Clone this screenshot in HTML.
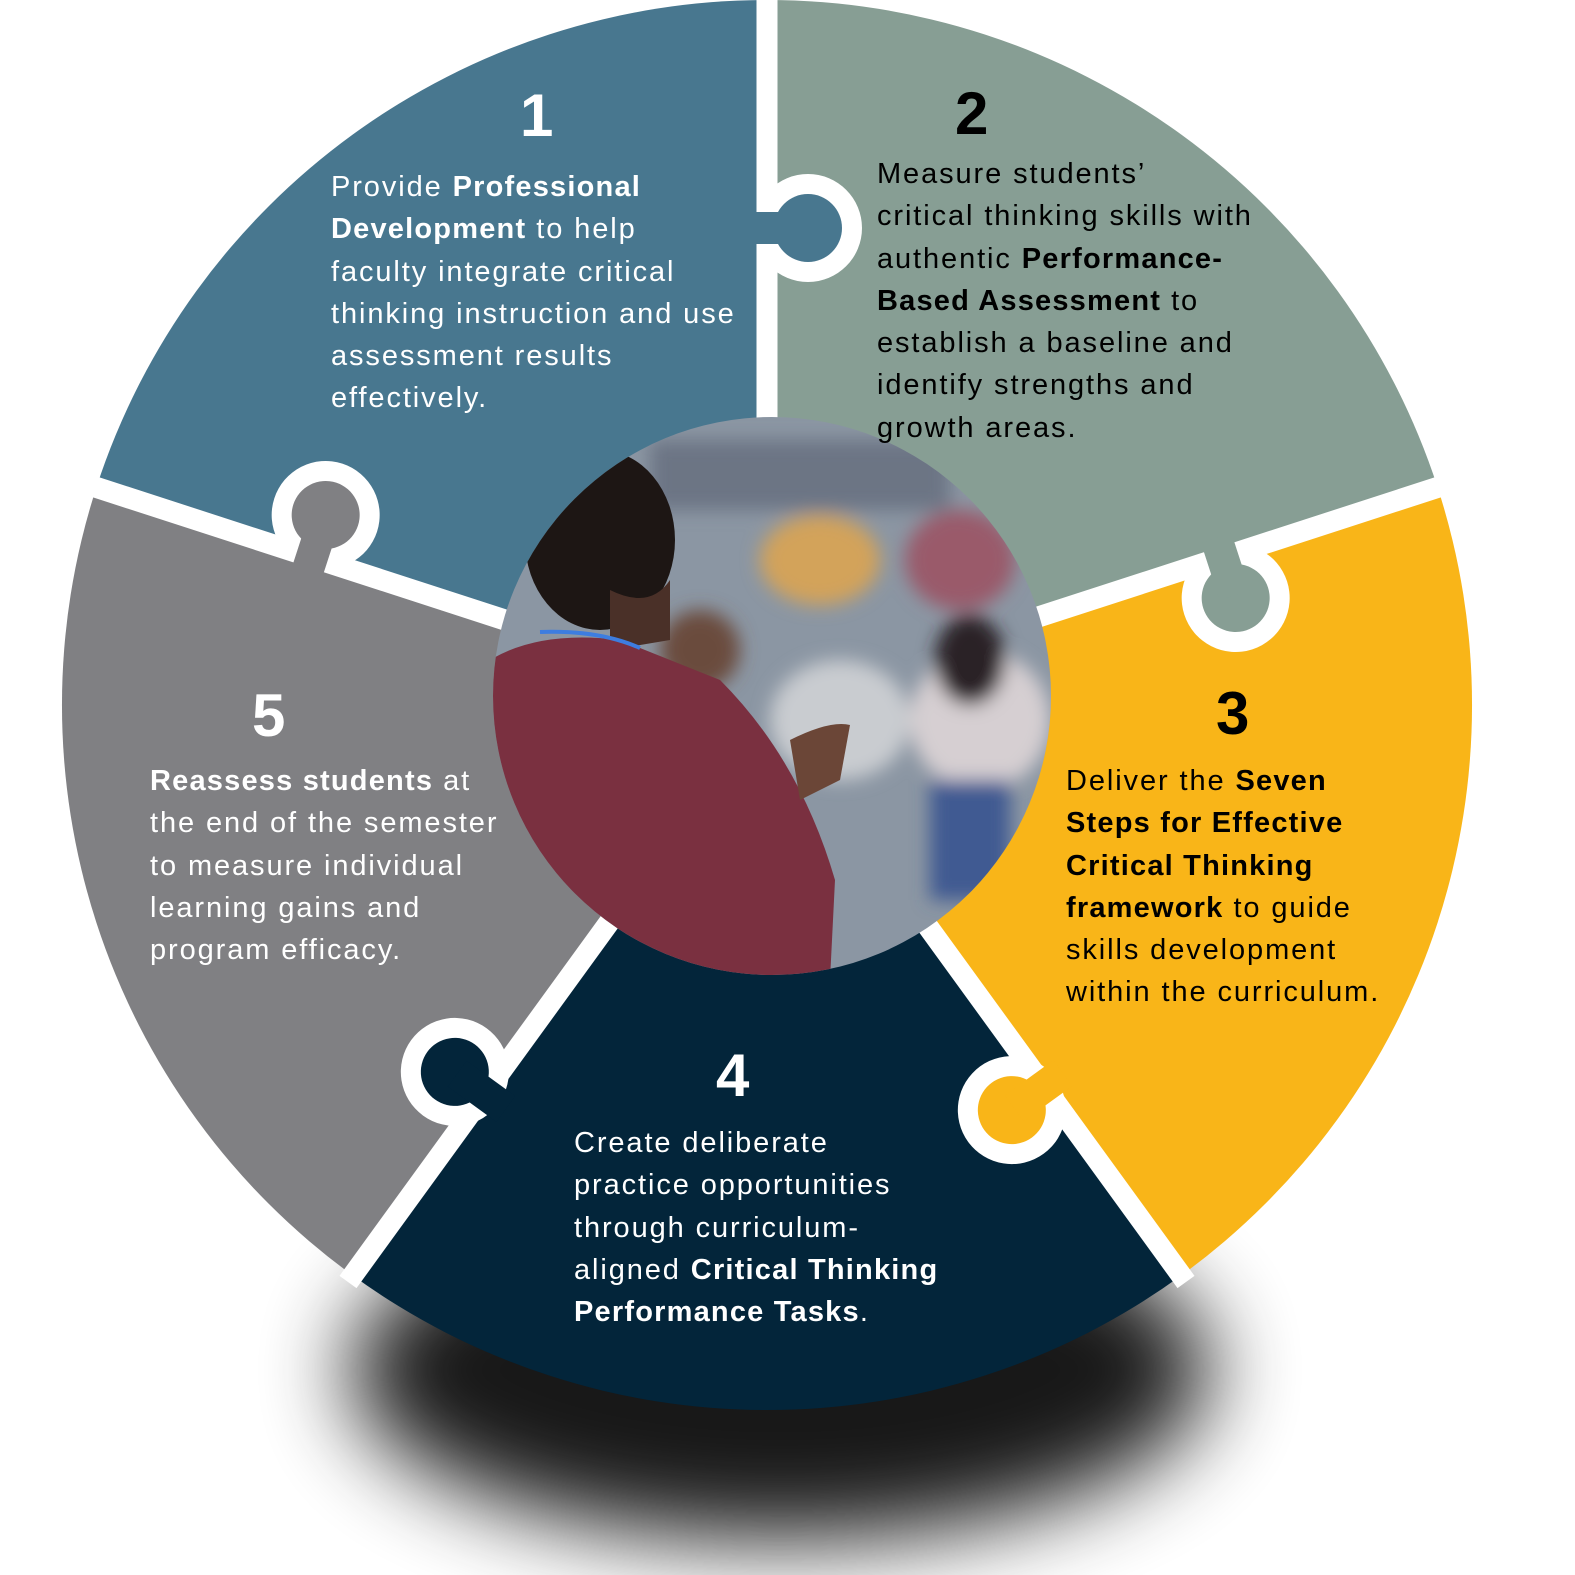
<!DOCTYPE html>
<html><head><meta charset="utf-8">
<style>
html,body{margin:0;padding:0;background:#fff;}
body{width:1575px;height:1575px;position:relative;overflow:hidden;font-family:"Liberation Sans",sans-serif;}
.t{position:absolute;font-size:29px;line-height:42.3px;letter-spacing:1.9px;white-space:nowrap;}
.n{position:absolute;font-size:60px;font-weight:bold;line-height:60px;}
b{font-weight:bold;letter-spacing:1.2px;}
</style></head><body>
<svg width="1575" height="1575" style="position:absolute;left:0;top:0">
<defs>
<filter id="bl" x="-50%" y="-50%" width="200%" height="200%"><feGaussianBlur stdDeviation="45"/></filter>
<filter id="bl2"><feGaussianBlur stdDeviation="9"/></filter>
<clipPath id="pc"><circle cx="772" cy="696" r="279"/></clipPath>
</defs>
<ellipse cx="780" cy="1370" rx="430" ry="170" fill="#000" opacity="0.9" filter="url(#bl)"/>
<path d="M767 705 L767 0 A705 705 0 0 1 1437.5 487.1 Z" fill="#879e94"/>
<path d="M767 705 L1437.5 487.1 A705 705 0 0 1 1181.4 1275.4 Z" fill="#f9b518"/>
<path d="M767 705 L1181.4 1275.4 A705 705 0 0 1 352.6 1275.4 Z" fill="#03253a"/>
<path d="M767 705 L352.6 1275.4 A705 705 0 0 1 96.5 487.1 Z" fill="#808083"/>
<path d="M767 705 L96.5 487.1 A705 705 0 0 1 767 0 Z" fill="#48778f"/>
<g stroke="#fff" stroke-width="21">
<line x1="767" y1="705" x2="767" y2="-5"/>
<line x1="767" y1="705" x2="1445" y2="485"/>
<line x1="767" y1="705" x2="1186" y2="1282"/>
<line x1="767" y1="705" x2="348" y2="1282"/>
<line x1="767" y1="705" x2="89" y2="485"/>
</g>
<g transform="translate(767,228) rotate(0)">
<circle cx="41" cy="0" r="54" fill="#fff"/><rect x="0" y="-36" width="50" height="72" fill="#fff"/>
<circle cx="41" cy="0" r="34" fill="#48778f"/><rect x="-22" y="-16" width="60" height="32" fill="#48778f"/></g>
<g transform="translate(1223,559) rotate(72)">
<circle cx="41" cy="0" r="54" fill="#fff"/><rect x="0" y="-36" width="50" height="72" fill="#fff"/>
<circle cx="41" cy="0" r="34" fill="#879e94"/><rect x="-22" y="-16" width="60" height="32" fill="#879e94"/></g>
<g transform="translate(1045,1086) rotate(144)">
<circle cx="41" cy="0" r="54" fill="#fff"/><rect x="0" y="-36" width="50" height="72" fill="#fff"/>
<circle cx="41" cy="0" r="34" fill="#f9b518"/><rect x="-22" y="-16" width="60" height="32" fill="#f9b518"/></g>
<g transform="translate(488,1096) rotate(216)">
<circle cx="41" cy="0" r="54" fill="#fff"/><rect x="0" y="-36" width="50" height="72" fill="#fff"/>
<circle cx="41" cy="0" r="34" fill="#03253a"/><rect x="-22" y="-16" width="60" height="32" fill="#03253a"/></g>
<g transform="translate(313,554) rotate(288)">
<circle cx="41" cy="0" r="54" fill="#fff"/><rect x="0" y="-36" width="50" height="72" fill="#fff"/>
<circle cx="41" cy="0" r="34" fill="#808083"/><rect x="-22" y="-16" width="60" height="32" fill="#808083"/></g>
<g clip-path="url(#pc)">
<rect x="490" y="415" width="570" height="565" fill="#8b96a3"/>
<g filter="url(#bl2)">
<rect x="650" y="440" width="300" height="70" fill="#6c7584"/>
<ellipse cx="820" cy="560" rx="60" ry="45" fill="#d3a35a"/>
<ellipse cx="960" cy="560" rx="55" ry="50" fill="#9a5a6a"/>
<ellipse cx="840" cy="720" rx="70" ry="60" fill="#c9ccd0"/>
<ellipse cx="980" cy="720" rx="70" ry="70" fill="#d6cfd2"/>
<ellipse cx="970" cy="660" rx="35" ry="45" fill="#2a2226"/>
<rect x="930" y="780" width="80" height="120" fill="#3f5a92"/>
<ellipse cx="700" cy="650" rx="40" ry="40" fill="#6a4c3c"/>
</g>
<ellipse cx="600" cy="540" rx="75" ry="90" fill="#1d1614"/>
<path d="M610 590 Q650 610 670 580 L670 640 L610 650z" fill="#4a3028"/>
<path d="M490 660 Q540 630 620 640 L720 680 Q800 760 835 880 L830 980 L490 980z" fill="#7a3040"/>
<path d="M540 632 Q600 630 640 648" stroke="#3d7de0" stroke-width="4" fill="none"/>
<path d="M790 740 Q830 720 850 725 L840 780 L800 800z" fill="#6b4637"/>
</g>
</svg>

<div class="n" style="left:520px;top:86px;color:#fff">1</div>
<div class="t" style="left:331px;top:166px;color:#fff">Provide <b>Professional<br>Development</b> to help<br>faculty integrate critical<br>thinking instruction and use<br>assessment results<br>effectively.</div>

<div class="n" style="left:955px;top:84px;color:#000">2</div>
<div class="t" style="left:877px;top:153px;color:#000">Measure students’<br>critical thinking skills with<br>authentic <b>Performance-<br>Based Assessment</b> to<br>establish a baseline and<br>identify strengths and<br>growth areas.</div>

<div class="n" style="left:1216px;top:684px;color:#000">3</div>
<div class="t" style="left:1066px;top:760px;color:#000">Deliver the <b>Seven<br>Steps for Effective<br>Critical Thinking<br>framework</b> to guide<br>skills development<br>within the curriculum.</div>

<div class="n" style="left:716px;top:1046px;color:#fff">4</div>
<div class="t" style="left:574px;top:1122px;color:#fff">Create deliberate<br>practice opportunities<br>through curriculum-<br>aligned <b>Critical Thinking<br>Performance Tasks</b>.</div>

<div class="n" style="left:252px;top:686px;color:#fff">5</div>
<div class="t" style="left:150px;top:760px;color:#fff"><b>Reassess students</b> at<br>the end of the semester<br>to measure individual<br>learning gains and<br>program efficacy.</div>
</body></html>
